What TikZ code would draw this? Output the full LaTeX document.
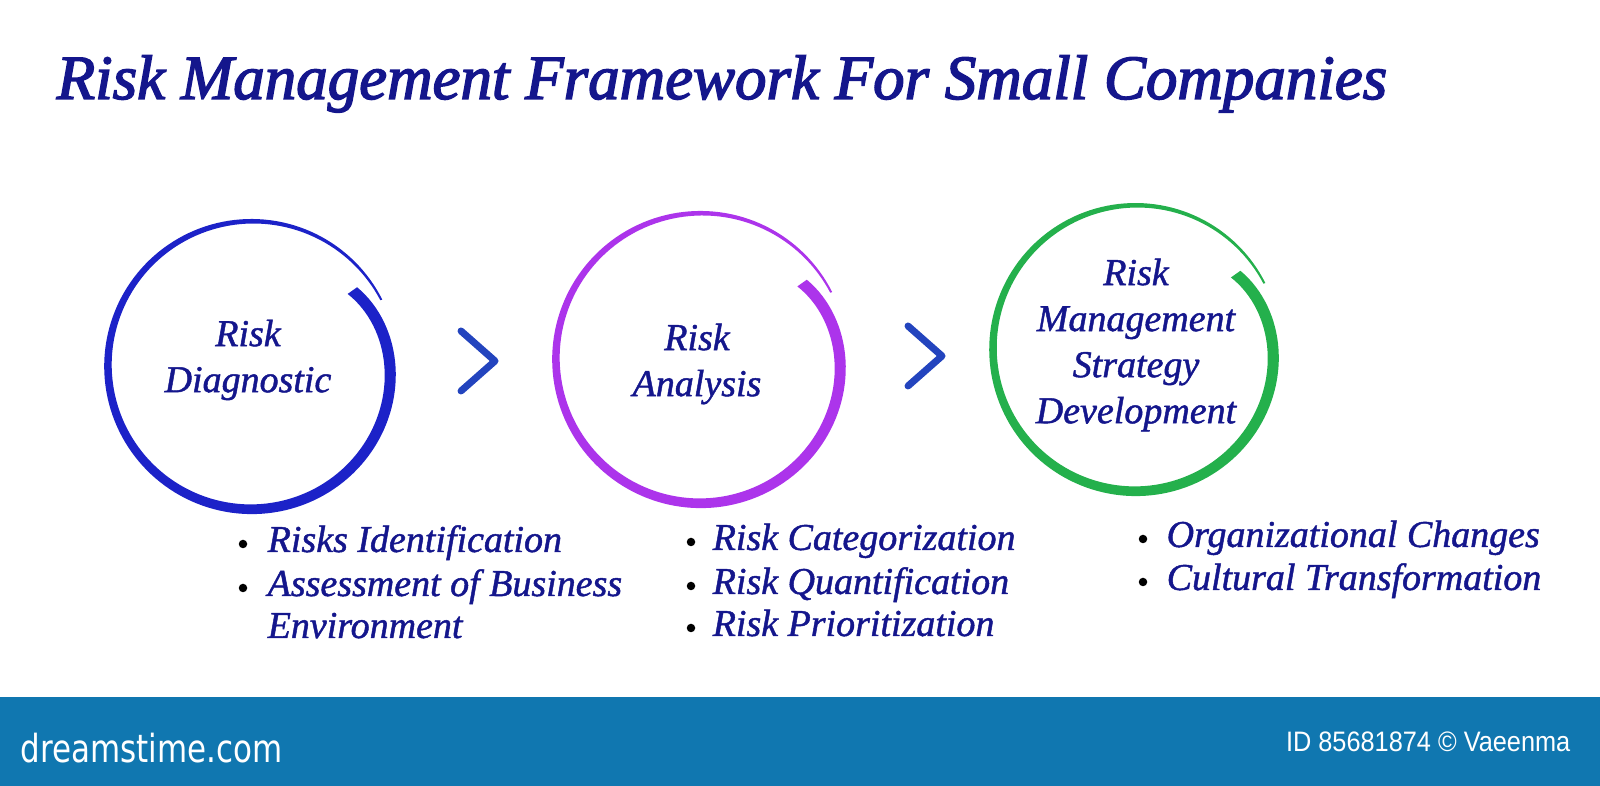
\documentclass[tikz,border=0pt]{standalone}
\usepackage{fontspec}
\setmainfont{Liberation Serif}[ItalicFeatures={FakeBold=1.2}]
\newfontfamily\titlefont{Liberation Serif}[ItalicFeatures={FakeBold=2.4}]
\newfontfamily\barfont[FakeStretch=0.8]{DejaVu Sans}
\newfontfamily\idfont[FakeStretch=0.9]{Liberation Sans}
\usetikzlibrary{calc}

\definecolor{inkblue}{RGB}{20,22,140}
\definecolor{ringblue}{RGB}{28,34,200}
\definecolor{ringpurple}{RGB}{172,52,235}
\definecolor{ringgreen}{RGB}{36,176,76}
\definecolor{chevblue}{RGB}{35,68,190}
\definecolor{barblue}{RGB}{16,119,176}

\tikzset{
  declare function={
    ringang(\t)=27+370*\t;
    ringrad(\t)=1.03-0.02*\t-0.12*\t^12;
    ringwd(\t)=2+16*\t-6.5*\t^2;
  },
  titletext/.style={font=\titlefont\fontsize{17.9}{20}\selectfont\itshape, text=inkblue, inner sep=0pt},
  ringtext/.style={font=\fontsize{10.8}{13.1}\selectfont\itshape, text=inkblue, align=center, inner sep=0pt},
  itemtext/.style={font=\fontsize{10.8}{13}\selectfont\itshape, text=inkblue, inner sep=0pt},
  dot/.style={circle, fill=black, inner sep=0pt, minimum size=0.085cm},
  chevron/.style={draw=chevblue, line width=0.07cm, line cap=round, line join=round},
}

% brush stroke ring: centre x, centre y, radius, colour
\newcommand{\brushring}[4]{%
  \fill[#4] plot[domain=0:1, samples=160, variable=\t]
      ({#1+(#3*ringrad(\t)+ringwd(\t)/2)*cos(ringang(\t))},
       {#2-(#3*ringrad(\t)+ringwd(\t)/2)*sin(ringang(\t))})
    -- plot[domain=1:0, samples=160, variable=\t]
      ({#1+(#3*ringrad(\t)-ringwd(\t)/2)*cos(ringang(\t))},
       {#2-(#3*ringrad(\t)-ringwd(\t)/2)*sin(ringang(\t))})
    -- cycle;
}

\begin{document}
\begin{tikzpicture}[x=0.01cm, y=-0.01cm]
  \useasboundingbox (0,0) rectangle (1600,786);

  % Title
  \node[titletext, anchor=base west] (title) at (56,99)
    {Risk Management Framework For Small Companies};

  % Rings
  \brushring{252}{366}{141}{ringblue}
  \brushring{701}{359}{142}{ringpurple}
  \brushring{1136}{349}{140}{ringgreen}

  \node[ringtext] (diag) at (248,360) {Risk\\Diagnostic};
  \node[ringtext] (anal) at (697,364) {Risk\\Analysis};
  \node[ringtext] (strat) at (1136,345) {Risk\\Management\\Strategy\\Development};

  % Chevrons between the rings
  \draw[chevron] (461,331) -- (495,361) -- (461,391);
  \draw[chevron] (908,326) -- (942,356) -- (908,386);

  % Bullet lists
  \node[dot] (d11) at (243,544) {};
  \node[itemtext, anchor=base west] (i11) at (267,552) {Risks Identification};
  \node[dot] (d12) at (243,588) {};
  \node[itemtext, anchor=base west] (i12) at (267,596) {Assessment of Business};
  \node[itemtext, anchor=base west] (i13) at (267,638) {Environment};

  \node[dot] (d21) at (691,542) {};
  \node[itemtext, anchor=base west] (i21) at (712,550) {Risk Categorization};
  \node[dot] (d22) at (691,586) {};
  \node[itemtext, anchor=base west] (i22) at (712,594) {Risk Quantification};
  \node[dot] (d23) at (691,628) {};
  \node[itemtext, anchor=base west] (i23) at (712,636) {Risk Prioritization};

  \node[dot] (d31) at (1143,539) {};
  \node[itemtext, anchor=base west] (i31) at (1166,547) {Organizational Changes};
  \node[dot] (d32) at (1143,582) {};
  \node[itemtext, anchor=base west] (i32) at (1166,590) {Cultural Transformation};

  % Footer bar
  \fill[barblue] (0,697) rectangle (1600,786);
  \node[font=\barfont\fontsize{11}{13}\selectfont, text=white, anchor=west, inner sep=0pt] (site) at (20,748) {dreamstime.com};
  \node[font=\idfont\fontsize{8}{10}\selectfont, text=white, anchor=east, inner sep=0pt] (imgid) at (1571,742) {ID 85681874 © Vaeenma};
\end{tikzpicture}
\end{document}
